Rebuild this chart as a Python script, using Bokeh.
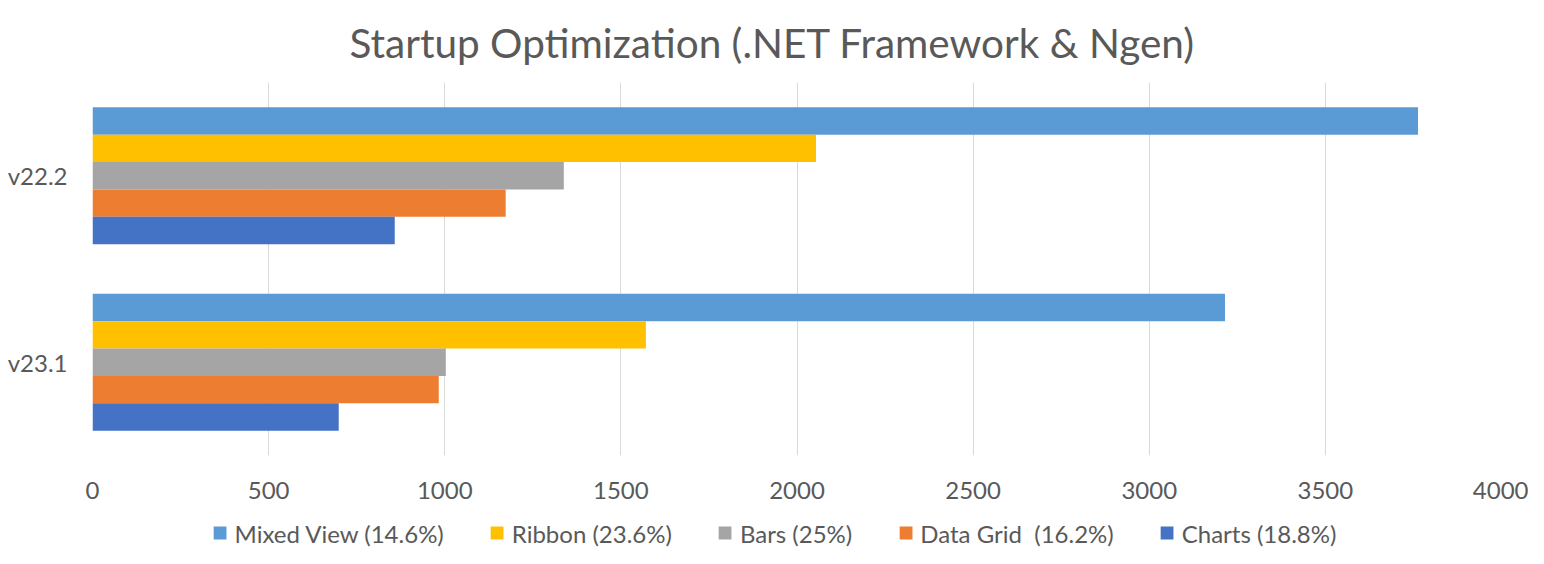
from bokeh.plotting import figure
from bokeh.models import ColumnDataSource, FactorRange, Range1d, Legend, LegendItem, FixedTicker
from bokeh.layouts import column
from bokeh.transform import dodge
from bokeh.embed import file_html
from bokeh.resources import INLINE

# ---- data ----
versions = ["v23.1", "v22.2"]  # bottom to top
series_names = ["Mixed View (14.6%)", "Ribbon (23.6%)", "Bars (25%)", "Data Grid  (16.2%)", "Charts (18.8%)"]
mixed_view = [3215, 3763]
ribbon = [1571, 2054]
bars = [1003, 1338]
data_grid = [983, 1173]
charts = [699, 858]
x_ticks = [0, 500, 1000, 1500, 2000, 2500, 3000, 3500, 4000]
colors = ["#5B9BD5", "#FFC000", "#A5A5A5", "#ED7D31", "#4472C4"]

FONT = "Lato"
TXT = "#595959"

source = ColumnDataSource(dict(ver=versions, mixed=mixed_view, ribbon=ribbon,
                               bars=bars, grid=data_grid, charts=charts))

W = 1528
p = figure(width=W, height=505, output_backend="svg", toolbar_location=None,
           y_range=FactorRange(factors=versions, range_padding=0),
           x_range=Range1d(0, 4000),
           min_border_left=92, min_border_right=27, min_border_top=80, min_border_bottom=50)

bar_h = 0.1467
offsets = [2 * bar_h, bar_h, 0.0, -bar_h, -2 * bar_h]
cols = ["mixed", "ribbon", "bars", "grid", "charts"]
for col, off, c in zip(cols, offsets, colors):
    p.hbar(y=dodge("ver", off, range=p.y_range), right=col, left=0, height=bar_h,
           source=source, fill_color=c, line_color=None)

# title
p.title.text = "Startup Optimization (.NET Framework & Ngen)"
p.title.align = "left"
p.title.offset = 257
p.title.text_font = FONT
p.title.text_font_style = "normal"
p.title.text_font_size = "40.5px"
p.title.text_color = TXT
p.title.standoff = 31

# axes
p.xaxis.ticker = FixedTicker(ticks=x_ticks)
p.xaxis.axis_line_color = None
p.xaxis.major_tick_line_color = None
p.xaxis.minor_tick_line_color = None
p.xaxis.major_label_text_font = FONT
p.xaxis.major_label_text_font_size = "24px"
p.xaxis.major_label_text_color = TXT
p.xaxis.major_label_standoff = 20

p.yaxis.axis_line_color = None
p.yaxis.major_tick_line_color = None
p.yaxis.minor_tick_line_color = None
p.yaxis.major_label_text_font = FONT
p.yaxis.major_label_text_font_size = "24px"
p.yaxis.major_label_text_color = TXT
p.yaxis.major_label_standoff = 19

p.ygrid.grid_line_color = None
p.xgrid.grid_line_color = "#d9d9d9"
p.xgrid.grid_line_width = 1
p.outline_line_color = None

# legend strip (separate plot so the legend is not clipped by the main frame);
# its renderers are hidden, only the legend swatches show
lg = figure(width=1483, height=43, output_backend="svg", toolbar_location=None,
            x_range=Range1d(0, 4000), y_range=FactorRange(factors=versions),
            min_border_left=0, min_border_right=0, min_border_top=12, min_border_bottom=0)
lg.axis.visible = False
lg.grid.visible = False
lg.outline_line_color = None
swatches = []
for col, c in zip(cols, colors):
    r = lg.hbar(y="ver", right=col, left=0, height=0.1, source=source,
                fill_color=c, line_color=None)
    r.visible = False
    swatches.append(r)

legend = Legend(items=[LegendItem(label=n, renderers=[r]) for n, r in zip(series_names, swatches)],
                orientation="horizontal", location="center",
                label_text_font=FONT, label_text_font_size="24px", label_text_color=TXT,
                glyph_width=16, glyph_height=16, label_standoff=7, spacing=45,
                inactive_fill_alpha=0,
                border_line_color=None, background_fill_alpha=0, padding=0, margin=0)
lg.add_layout(legend)

layout = column(p, lg, spacing=0)
open("out.html", "w").write(file_html(layout, INLINE))
